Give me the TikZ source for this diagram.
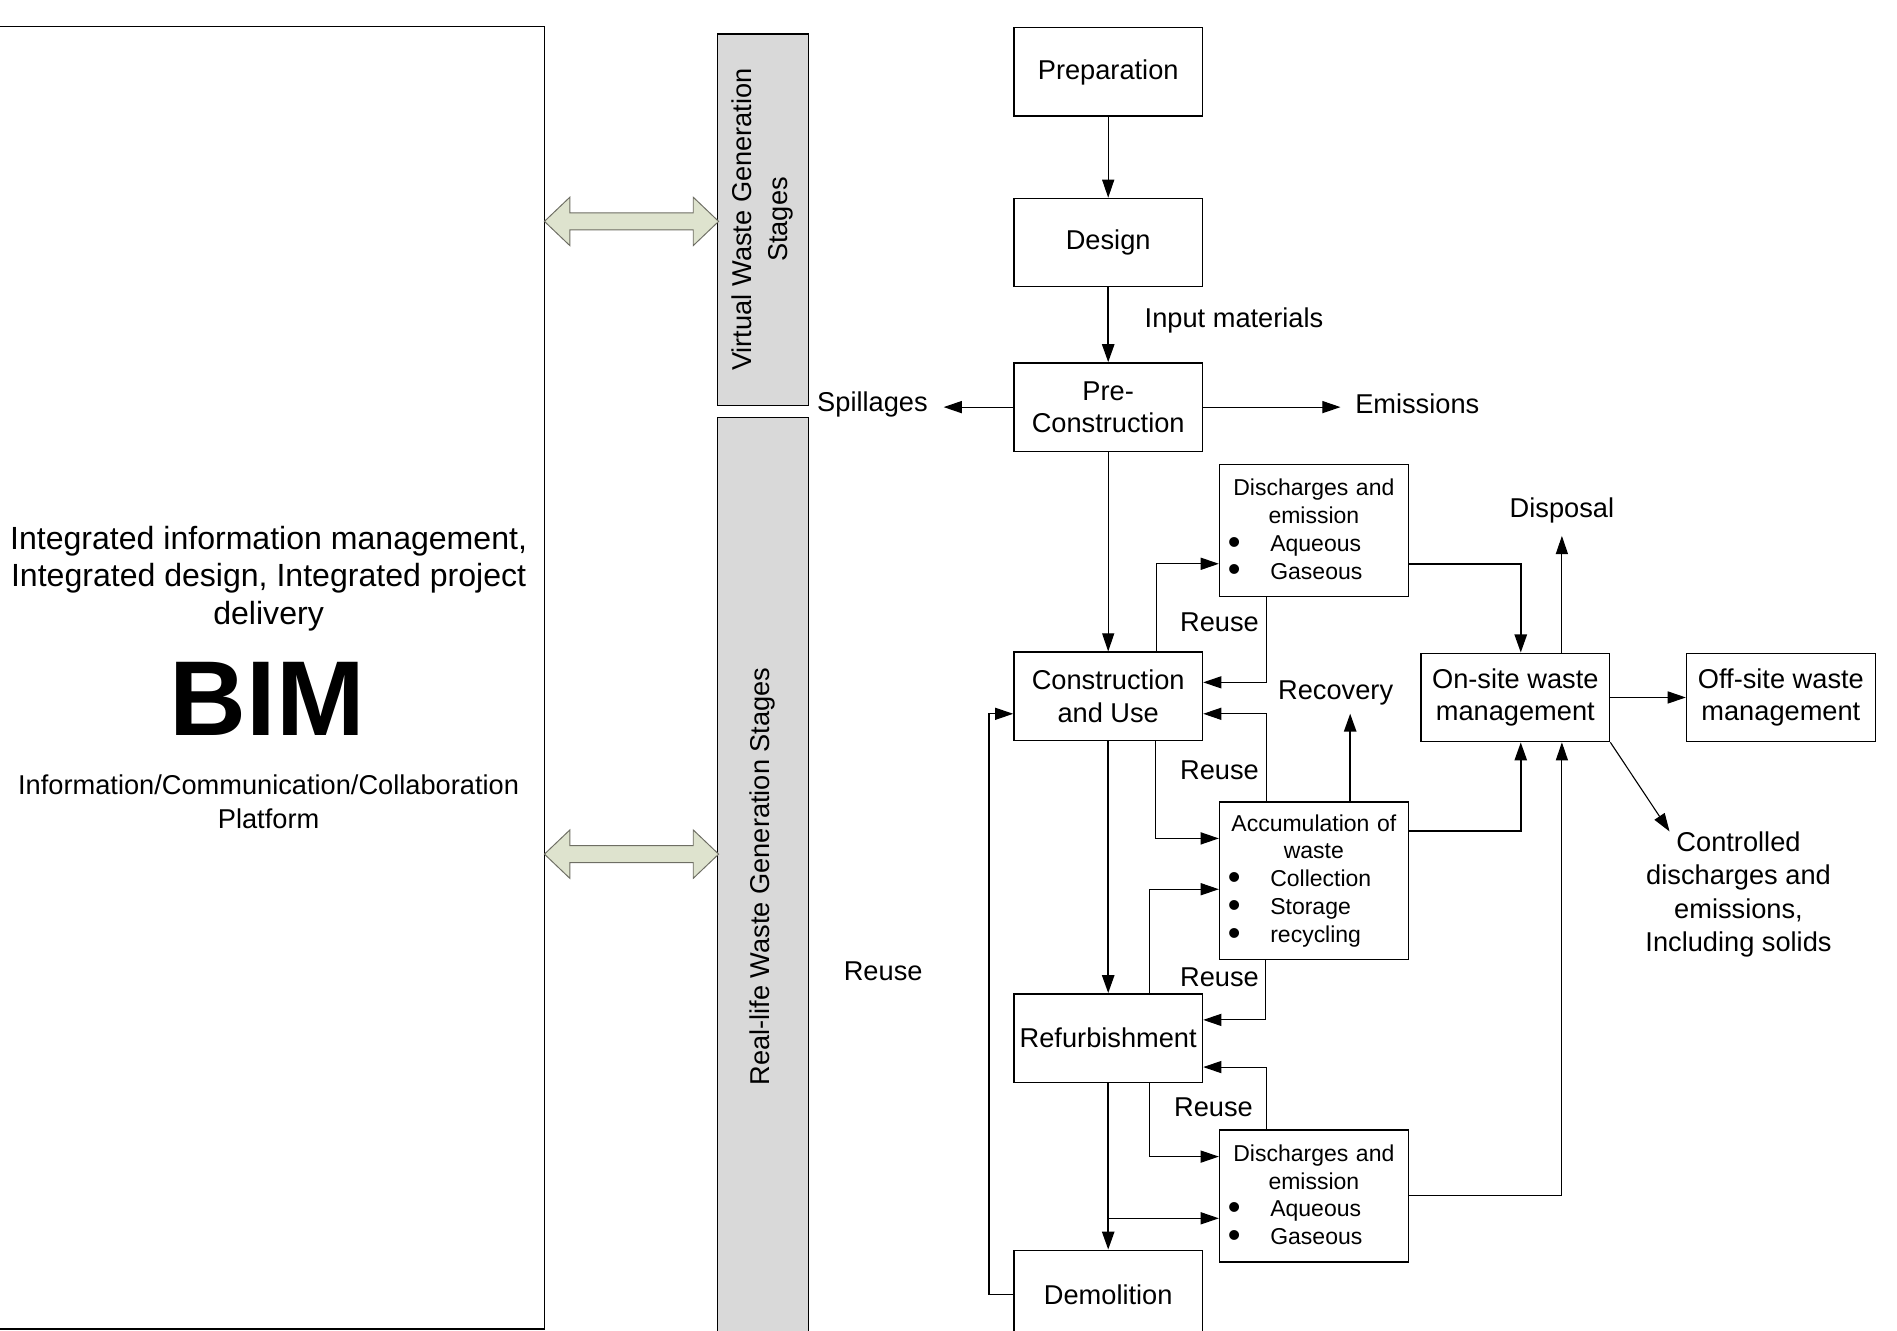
\documentclass[tikz,border=0pt]{standalone}
\usepackage{fontspec}
\setmainfont{Liberation Sans}
\usetikzlibrary{arrows.meta}

\definecolor{bandgrey}{RGB}{217,217,217}
\definecolor{linkgreen}{RGB}{222,227,206}
\definecolor{linkedge}{RGB}{110,110,100}

\tikzset{
	stage/.style={draw,line width=1.1pt,minimum width=156pt,minimum height=73pt,inner sep=0pt,align=center,font=\fontsize{22.5}{27}\selectfont},
	waste/.style={draw,line width=1.1pt,minimum width=156pt,text width=156pt,inner sep=0pt,font=\fontsize{19}{23}\selectfont},
	lbl/.style={inner sep=0pt,align=center,font=\fontsize{22.5}{27.7}\selectfont},
	band/.style={draw,line width=1.1pt,fill=bandgrey,rotate=90,minimum height=75pt,inner sep=0pt,align=center,font=\fontsize{22.5}{30}\selectfont},
	arr/.style={line width=0.9pt,-{Triangle[length=15pt,width=10pt]}},
	arrbold/.style={arr,line width=2pt},
	link/.style={draw=linkedge,fill=linkgreen,line width=0.8pt}
}
\newcommand{\bul}{\hspace*{7pt}\makebox[35pt][l]{\raisebox{-2.2pt}{\fontsize{30}{23}\selectfont\textbullet}}}

\begin{document}
\begin{tikzpicture}[x=1pt,y=-1pt]
\useasboundingbox (0,0) rectangle (1568,1100);
% BIM platform
\node[draw,line width=1.1pt,minimum width=455pt,minimum height=1076.5pt] (bim) at (222.5,560.25) {};
\node[inner sep=0pt,align=center,font=\fontsize{26.5}{31}\selectfont] (bimtop) at (222,478) {Integrated information management,\\Integrated design, Integrated project\\delivery};
\node[inner sep=0pt,font=\fontsize{88}{90}\selectfont\bfseries] (bimname) at (221,578) {BIM};
\node[inner sep=0pt,align=center,font=\fontsize{22.5}{28}\selectfont] (bimplat) at (222,663) {Information/Communication/Collaboration\\Platform};

\node[band,minimum width=307pt] (virt) at (630.5,181.5) {Virtual Waste Generation\\Stages};
\node[band,minimum width=759pt] (real) at (630.5,724.5) {Real-life Waste Generation Stages};

\foreach \y in {183,706}{
	\draw[link] (450,\y) -- (471,\y-20) -- (471,\y-7) -- (573,\y-7) -- (573,\y-20) -- (594,\y) -- (573,\y+20) -- (573,\y+7) -- (471,\y+7) -- (471,\y+20) -- cycle;
}

% stages
\node[stage] (prep) at (916,59.5) {Preparation};
\node[stage] (design) at (916,200.5) {Design};
\node[stage] (precon) at (916,336.5) {Pre-\\Construction};
\node[stage] (conuse) at (916,575.5) {Construction\\and Use};
\node[stage] (refurb) at (916,858) {Refurbishment};
\node[stage] (demol) at (916,1070) {Demolition};
\node[stage] (onsite) at (1252.5,576.5) {On-site waste\\management};
\node[stage] (offsite) at (1472,576.5) {Off-site waste\\management};

\node[waste,minimum height=109pt] (disc1) at (1086,438.5) {\centering Discharges and\\emission\par\raggedright\bul Aqueous\\\bul Gaseous};
\node[waste,minimum height=130pt] (accum) at (1086,728) {\centering Accumulation of\\waste\par\raggedright\bul Collection\\\bul Storage\\\bul recycling};
\node[waste,minimum height=109pt] (disc2) at (1086,988.5) {\centering Discharges and\\emission\par\raggedright\bul Aqueous\\\bul Gaseous};

% labels
\node[lbl,anchor=west] (input) at (946,265) {Input materials};
\node[lbl,anchor=east] (spill) at (767,334) {Spillages};
\node[lbl,anchor=west] (emis) at (1120,334) {Emissions};
\node[lbl] (disp) at (1291,422) {Disposal};
\node[lbl] (recov) at (1104,573) {Recovery};
\node[lbl] (ctrl) at (1437,739.5) {Controlled\\discharges and\\emissions,\\Including solids};
\node[lbl] (reuse1) at (1008,514) {Reuse};
\node[lbl] (reuse2) at (1008,637) {Reuse};
\node[lbl] (reuse3) at (1008,808) {Reuse};
\node[lbl] (reuse4) at (1003,915) {Reuse};
\node[lbl] (reuse5) at (730,803) {Reuse};

% main line
\draw[arr] (prep) -- (design);
\draw[arrbold] (design) -- (precon);
\draw[arr] (precon) -- (conuse);
\draw[arrbold] (conuse) -- (refurb);
\draw[arrbold] (refurb) -- (demol);
\draw[arr] (precon.west) -- ([xshift=13pt]spill.east |- precon.west);
\draw[arr] (precon.east) -- ([xshift=-12pt]emis.west |- precon.east);

% reuse loops
\draw[arr] ([xshift=40pt]conuse.north) |- ([yshift=-27.5pt]disc1.west);
\draw[arr] ([xshift=-39pt]disc1.south) |- ([yshift=11.5pt]conuse.east);
\draw[arr] ([xshift=-39pt]accum.north) |- ([yshift=-14.5pt]conuse.east);
\draw[arr] ([xshift=39pt]conuse.south) |- ([yshift=35pt]accum.west);
\draw[arr] ([xshift=34pt]refurb.north) |- ([yshift=-7pt]accum.west);
\draw[arr] ([xshift=-40pt]accum.south) |- ([yshift=15pt]refurb.east);
\draw[arr] ([xshift=-39pt]disc2.north) |- ([yshift=-24pt]refurb.east);
\draw[arr] ([xshift=34pt]refurb.south) |- ([yshift=32.5pt]disc2.west);
\coordinate (split) at (916,1007);
\draw[arr] (split) -- (split -| disc2.west);
\draw[arr] (demol.west) -- ++(-20,0) |- ([yshift=-14.5pt]conuse.west);
\draw[arrbold,shorten >=6.5pt] ([xshift=30pt]accum.north) -- ([xshift=30pt]accum.north |- recov.south);

% waste management
\draw[arrbold] ([yshift=-27.5pt]disc1.east) -| ([xshift=4.5pt]onsite.north);
\draw[arrbold] ([yshift=41pt]accum.east) -| ([xshift=4.5pt]onsite.south);
\draw[arr] (disc2.east) -| ([xshift=38.5pt]onsite.south);
\draw[arr] ([xshift=38.5pt]onsite.north) -- ([yshift=-21pt]disp.center);
\draw[arr] (onsite) -- (offsite);
\draw[arr] (onsite.south east) -- ([xshift=-57pt]ctrl.north);
\end{tikzpicture}
\end{document}
